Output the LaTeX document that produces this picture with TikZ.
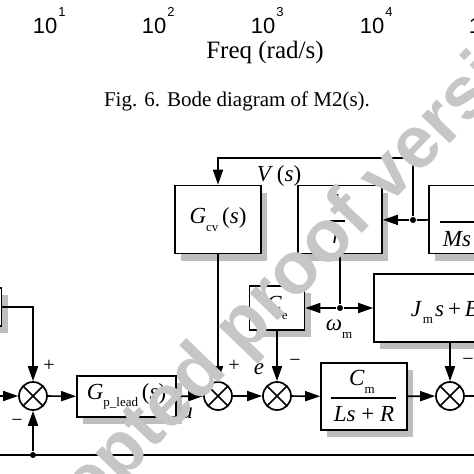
\documentclass[tikz,border=0pt]{standalone}
\usepackage{fontspec}
\setmainfont{Liberation Serif}
\newfontfamily\arialf{Liberation Sans}
\usetikzlibrary{arrows.meta,shadows}
\definecolor{shad}{RGB}{190,190,190}
\definecolor{wmark}{RGB}{198,198,198}
\newcommand\lowsub[1]{\raisebox{-0.32em}{\fontsize{13}{13}\selectfont #1}}
\newcommand\upsup[1]{\raisebox{17pt}{\fontsize{13}{13}\selectfont #1}}
\tikzset{
  blk/.style={draw, fill=white, inner sep=0pt,
    drop shadow={shadow xshift=6pt, shadow yshift=-7pt, fill=shad, opacity=1}},
  sumj/.style={draw, circle, fill=white, minimum size=28pt, inner sep=0pt,
    path picture={\draw[line width=1.7pt] (path picture bounding box.north west) -- (path picture bounding box.south east)
      (path picture bounding box.north east) -- (path picture bounding box.south west);}},
  lbl/.style={inner sep=0pt, font=\fontsize{23}{23}\selectfont},
  sgn/.style={inner sep=0pt, font=\fontsize{20}{20}\selectfont},
  jdot/.style={circle, fill=black, inner sep=0pt, minimum size=6pt},
  tick/.style={inner sep=0pt, anchor=base west, font=\arialf\fontsize{22}{22}\selectfont},
}
\begin{document}
\begin{tikzpicture}[x=1pt, y=-1pt, line width=1.7pt, >={Triangle[length=15pt,width=10pt]}]
\useasboundingbox (0,0) rectangle (474,474);
\clip (0,0) rectangle (474,474);
\fill[white] (0,0) rectangle (474,474);

% axis labels and caption
\node[tick] (t1) at (32,33) {10\kern1pt\upsup{1}};
\node[tick] (t2) at (141,33) {10\kern1pt\upsup{2}};
\node[tick] (t3) at (250,33) {10\kern1pt\upsup{3}};
\node[tick] (t4) at (359,33) {10\kern1pt\upsup{4}};
\node[tick] (t5) at (468,33) {10\kern1pt\upsup{5}};
\node[inner sep=0pt, anchor=base, font=\fontsize{25}{25}\selectfont] (xlab) at (265,58) {Freq (rad/s)};
\node[inner sep=0pt, anchor=base, font=\fontsize{21}{21}\selectfont] (cap) at (237,106) {Fig. 6. Bode diagram of M2(s).};

% blocks
\node[blk, minimum width=43pt, minimum height=38pt] (lbox) at (-20,307) {};
\node[blk, minimum width=86pt, minimum height=68pt, lbl] (gcv) at (218,219.5) {\textit{G}\lowsub{cv}\,(\textit{s})};
\node[blk, minimum width=84pt, minimum height=68pt] (rbox) at (340,219.5) {};
\node[blk, minimum width=92pt, minimum height=68pt] (ms) at (475,219.5) {};
\node[blk, minimum width=186pt, minimum height=68pt] (jm) at (467,308) {};
\node[blk, minimum width=55pt, minimum height=44pt] (ce) at (277,308) {};
\node[blk, minimum width=86pt, minimum height=67pt] (cm) at (364,396.5) {};
\node[blk, minimum width=99pt, minimum height=41pt, lbl] (gp) at (126.5,396.5) {\textit{G}\lowsub{p\_lead}\,(\textit{s})};

% block contents
\node[lbl] (rnum) at (337,202) {1};
\draw[line width=1.2pt] (330,221) -- (345,221);
\node[lbl] (rden) at (337,238) {\textit{r}};
\draw[line width=1.2pt] (440,222) -- (480,222);
\node[lbl, anchor=base west] (msd) at (442,246) {\textit{Ms}};
\node[lbl, anchor=base west] (jmt) at (410,316) {\textit{J}\kern1pt\lowsub{m}\kern2pt\textit{s}\kern4pt+\kern4pt\textit{B}};
\node[lbl] (cet) at (277,308) {\textit{C}\lowsub{e}};
\node[lbl] (cmn) at (362,382) {\textit{C}\lowsub{m}};
\draw[line width=1.2pt] (331,398) -- (396,398);
\node[lbl] (cmd) at (364,414) {\textit{Ls} + \textit{R}};

% summing junctions
\node[sumj] (s0) at (33,396) {};
\node[sumj] (s1) at (218,396) {};
\node[sumj] (s2) at (277,396) {};
\node[sumj] (s3) at (450,396) {};

% junction dots and free ends
\node[jdot] (dV) at (413,220) {};
\node[jdot] (dW) at (340,308) {};
\node[jdot] (dB) at (33,455) {};
\coordinate (inL) at (-2,396);
\coordinate (outR) at (480,396);
\coordinate (botL) at (-2,455);
\coordinate (botR) at (480,455);
\coordinate (tc) at (413,158);

% connectors
\draw[->] (inL) -- (s0);
\draw[->] (s0) -- (gp);
\draw[->] (gp) -- (s1);
\draw[->] (s1) -- (s2);
\draw[->] (s2) -- (cm);
\draw[->] (cm) -- (s3);
\draw (s3) -- (outR);
\draw (botL) -- (botR);
\draw[->] (dB) -- (s0);
\draw[->] (lbox.east) -| (s0.north);
\draw[->] (gcv) -- (s1);
\draw[->] (dV) -- (tc) -| (gcv.north);
\draw (ms) -- (dV);
\draw[->] (dV) -- (rbox);
\draw (rbox) -- (dW);
\draw[->] (dW) -- (ce);
\draw[->] (dW) -- (jm);
\draw[->] (ce) -- (s2);
\draw[->] (s3 |- jm.south) -- (s3);

% signal labels
\node[lbl] (vlab) at (279,176) {\textit{V}\,(\textit{s})};
\node[lbl] (wlab) at (339,329) {\textit{ω}\lowsub{m}};
\node[lbl] (ulab) at (187,413) {\textit{u}};
\node[lbl] (elab) at (259,369) {\textit{e}};
\node[sgn] (p0) at (49,366) {+};
\node[sgn] (m0) at (17,423) {−};
\node[sgn] (p1) at (234,366) {+};
\node[sgn] (m2) at (295,363) {−};
\node[sgn] (m3) at (468,362) {−};

% watermark
\node[rotate=46, text=wmark, inner sep=0pt, font=\arialf\bfseries\fontsize{74}{74}\selectfont] (wm) at (271,301) {Accepted proof version};
\end{tikzpicture}
\end{document}
